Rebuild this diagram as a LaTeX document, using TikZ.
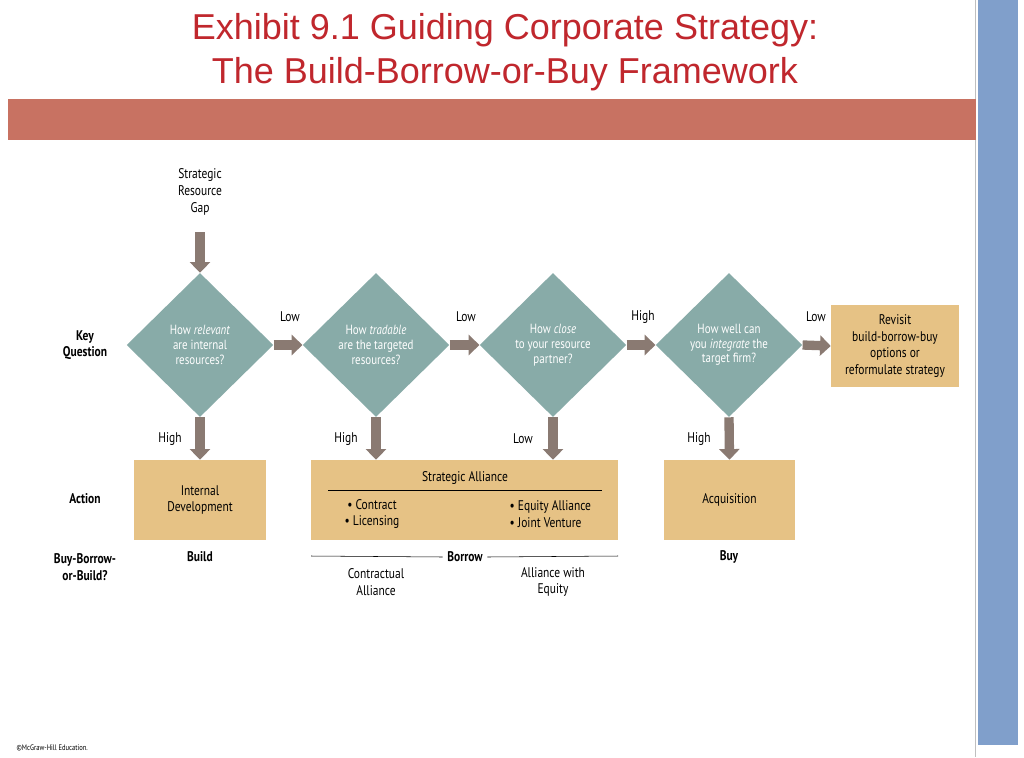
\documentclass[tikz,border=0pt]{standalone}
\usepackage{fontspec}
\setmainfont{PT Sans}[FakeStretch=0.82]
\newfontfamily\titlefont{Liberation Sans}
\usetikzlibrary{shapes.geometric,arrows.meta}
\definecolor{dia}{HTML}{88ABA8}
\definecolor{boxc}{HTML}{E6C285}
\definecolor{arr}{HTML}{8A7A72}
\definecolor{band}{HTML}{C87262}
\definecolor{side}{HTML}{809FCB}
\definecolor{titr}{HTML}{C0272D}
\begin{document}
\begin{tikzpicture}[x=0.75pt,y=-0.75pt,
  dia/.style={diamond,fill=dia,draw=none,minimum width=110pt,minimum height=108pt,inner sep=0pt,text=white,font=\fontsize{10}{11}\selectfont,align=center},
  bx/.style={fill=boxc,draw=none,inner sep=0pt,font=\fontsize{10.5}{12.5}\selectfont,align=center},
  fat/.style={draw=arr,line width=7pt,-{Triangle[width=15pt,length=8pt]},shorten >=0pt},
  lab/.style={font=\fontsize{10.5}{12.5}\selectfont,align=center},
  blab/.style={font=\bfseries\fontsize{10.5}{12.5}\selectfont,align=center}]
\useasboundingbox (0,0) rectangle (1024,757);
\fill[white] (0,0) rectangle (1024,757);
\fill[side] (978,0) rectangle (1018,745);
\draw[gray!50] (975,0) -- (975,757);
\fill[band] (8,99) rectangle (976,140);
\node[text=titr,font=\titlefont\fontsize{27}{33}\selectfont,align=center] (title) at (505,52) {Exhibit 9.1 Guiding Corporate Strategy:\\The Build-Borrow-or-Buy Framework};
\node[font=\fontsize{6}{7}\selectfont,anchor=west] (copy) at (12,748) {©McGraw-Hill Education.};

\node[lab] (gap) at (200,192) {Strategic\\Resource\\Gap};
\coordinate (gapa) at (200,232);
\node[dia] (d1) at (200,345) {How \textit{relevant}\\are internal\\resources?};
\node[dia] (d2) at (376,345) {How \textit{tradable}\\are the targeted\\resources?};
\node[dia] (d3) at (553,345) {How \textit{close}\\to your resource\\partner?};
\node[dia] (d4) at (729,345) {How well can\\you \textit{integrate} the\\target firm?};
\node[bx,minimum width=96pt,minimum height=61pt] (rev) at (895,346) {Revisit\\build-borrow-buy\\options or\\reformulate strategy};

\node[bx,minimum width=99pt,minimum height=60pt] (int) at (200,500) {Internal\\Development};
\node[bx,minimum width=230pt,minimum height=60pt] (sa) at (464.5,500) {};
\node[bx,minimum width=98pt,minimum height=60pt] (acq) at (729.5,500) {Acquisition};
\node[lab] (satitle) at (465,478) {Strategic Alliance};
\draw (328,490) -- (602,490);
\node[lab,anchor=west] (b1) at (340,514) {\textbullet{} Contract\\\textbullet{} Licensing};
\node[lab,anchor=west,align=left] (b2) at (505,514) {\textbullet{} Equity Alliance\\\textbullet{} Joint Venture};

\draw[fat] (gapa) -- (d1.north);
\draw[fat] (d1.east) -- (d2.west);
\draw[fat] (d2.east) -- (d3.west);
\draw[fat] (d3.east) -- (d4.west);
\draw[fat] (d4.east) -- (rev.west);
\draw[fat] (d1.south) -- (int.north);
\draw[fat] (d2.south) -- (sa.north -| d2.south);
\draw[fat] (d3.south) -- (sa.north -| d3.south);
\draw[fat] (d4.south) -- (acq.north);

\node[lab] (l1) at (290,317) {Low};
\node[lab] (l2) at (466,317) {Low};
\node[lab] (l3) at (643,317) {High};
\node[lab] (l4) at (816,317) {Low};
\node[lab] (h1) at (170,439) {High};
\node[lab] (h2) at (346,439) {High};
\node[lab] (h3) at (523,439) {Low};
\node[lab] (h4) at (699,439) {High};

\node[blab] (kq) at (85,345) {Key\\Question};
\node[blab] (act) at (85,499) {Action};
\node[blab] (bbb) at (85,567) {Buy-Borrow-\\or-Build?};
\node[blab] (build) at (200,557) {Build};
\node[blab] (borrow) at (465,557) {Borrow};
\node[blab] (buy) at (729,557) {Buy};
\draw (311,556) -- (borrow.west);
\draw (borrow.east) -- (618,556);
\node[lab] (ca) at (376,582) {Contractual\\Alliance};
\node[lab] (ae) at (553,582) {Alliance with\\Equity};
\end{tikzpicture}
\end{document}
